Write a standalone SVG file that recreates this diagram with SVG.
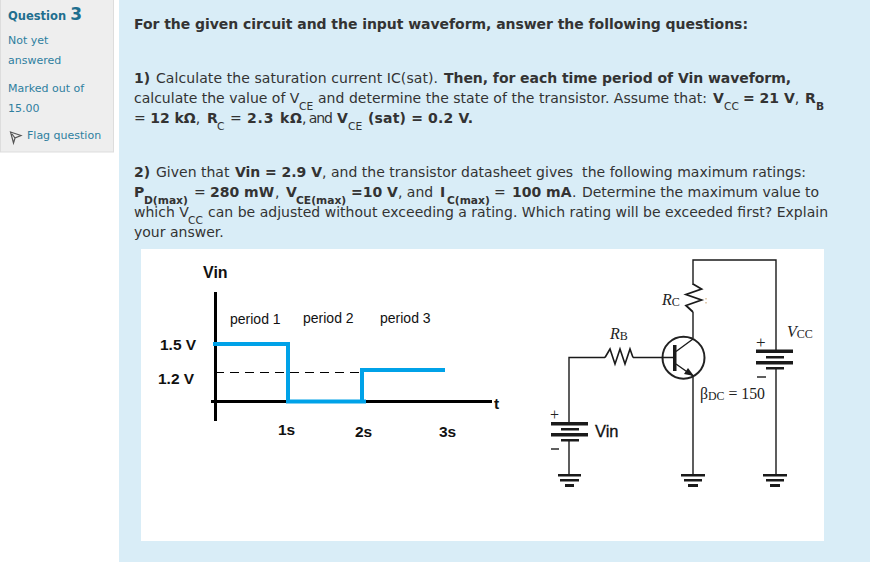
<svg xmlns="http://www.w3.org/2000/svg" width="870" height="562" viewBox="0 0 870 562">
<style>
text{font-family:"DejaVu Sans",Verdana,sans-serif;font-size:14px;fill:#333;white-space:pre}
.b{font-weight:bold}
.s{font-size:10.700px}
.side{font-size:11px;fill:#2f7f9f}
.g{font-family:"Liberation Sans",Arial,sans-serif;fill:#111}
.gb{font-family:"Liberation Sans",Arial,sans-serif;font-weight:bold;font-size:15.500px;fill:#111}
.t{font-family:"Liberation Serif","Times New Roman",serif;font-size:16px;fill:#222}
.ts{font-size:12px;fill:#222}
.w{fill:none;stroke:#1a1a1a;stroke-width:1.400}
.p{fill:#1a1a1a}
.ax{fill:none;stroke:#000;stroke-width:3}
.wave{fill:none;stroke:#00a2e8;stroke-width:4}
</style>
<rect width="870" height="562" fill="#fff"/>
<g id="sidebar">
<rect x="0.500" y="-1" width="113" height="153" fill="#eee" stroke="#ddd"/>
<text x="8" y="20" class="b" style="font-size:11.500px;fill:#1f6f8f">Question <tspan style="font-size:17px">3</tspan></text>
<text x="8" y="44" class="side">Not yet</text>
<text x="8" y="64" class="side">answered</text>
<text x="8" y="92" class="side">Marked out of</text>
<text x="8" y="112" class="side">15.00</text>
<path d="M10.500 132L21 135.500 15 138 13.500 143ZM12 134L15 138" fill="none" stroke="#555" stroke-width="1.200"/>
<text x="27" y="139" class="side">Flag question</text>
</g>
<rect id="panel" x="119" y="0" width="751" height="562" fill="#d9edf7"/>
<g id="question">
<text x="134" y="29" class="b" textLength="614">For the given circuit and the input waveform, answer the following questions:</text>
<text x="134" y="83" class="b">1)</text>
<text x="156" y="83" textLength="282">Calculate the saturation current IC(sat).</text>
<text x="444" y="83" class="b" textLength="347">Then, for each time period of Vin waveform,</text>
<text x="134" y="103">calculate the value of V</text><text x="299" y="110" class="s">CE</text>
<text x="318" y="103" textLength="389">and determine the state of the transistor. Assume that:</text>
<text x="713" y="103" class="b">V</text><text x="724" y="110" class="s">CC</text>
<text x="743" y="103"><tspan class="b">= 21 V</tspan>,</text>
<text x="805" y="103" class="b">R</text><text x="816" y="110" class="b s">B</text>
<text x="134" y="123">= <tspan class="b">12 kΩ</tspan>,</text>
<text x="207" y="123" class="b">R</text><text x="217" y="130" class="s">C</text>
<text x="230" y="123">=</text><text x="247" y="123" class="b" textLength="55">2.3 kΩ</text><text x="302" y="123" textLength="31">, and</text>
<text x="337" y="123" class="b">V</text><text x="348" y="130" class="s">CE</text>
<text x="368" y="123" class="b" textLength="105">(sat) = 0.2 V.</text>
<text x="134" y="177" class="b">2)</text>
<text x="156" y="177">Given that</text>
<text x="235" y="177" class="b" textLength="87">Vin = 2.9 V</text>
<text x="322" y="177" textLength="484">, and the transistor datasheet gives  the following maximum ratings:</text>
<text x="134" y="197" class="b">P</text><text x="144" y="204" class="b s">D(max)</text>
<text x="194" y="197">=</text><text x="210" y="197" class="b">280 mW</text><text x="275" y="197">,</text>
<text x="286" y="197" class="b">V</text><text x="296" y="204" class="b s">CE(max)</text>
<text x="351" y="197"><tspan class="b">=10 V</tspan>, and</text>
<text x="440" y="197" class="b">I</text><text x="447" y="204" class="b s">C(max)</text>
<text x="494" y="197">=</text><text x="512" y="197" class="b">100 mA</text><text x="572" y="197">.</text>
<text x="582" y="197" textLength="237">Determine the maximum value to</text>
<text x="134" y="217">which V</text><text x="188" y="224" class="s">CC</text>
<text x="208" y="217" textLength="620">can be adjusted without exceeding a rating. Which rating will be exceeded first? Explain</text>
<text x="134" y="237">your answer.</text>
</g>
<rect id="figure" x="141" y="249" width="683" height="292" fill="#fff"/>
<g id="waveform">
<path class="ax" d="M215.500 292V421M211 401.500H492"/>
<path d="M215 372.500H361" fill="none" stroke="#000" stroke-width="1" stroke-dasharray="9 6"/>
<path class="wave" d="M213 344H288V401.500H366M362 401.500V370H445"/>
<text x="203" y="278" class="gb" style="font-size:16px">Vin</text>
<text x="230" y="324" class="g">period 1</text>
<text x="303" y="323" class="g">period 2</text>
<text x="380" y="323" class="g">period 3</text>
<text x="160" y="350" class="gb">1.5 V</text>
<text x="158" y="384" class="gb">1.2 V</text>
<text x="278" y="435" class="gb">1s</text>
<text x="355" y="437" class="gb">2s</text>
<text x="439" y="437" class="gb">3s</text>
<text x="494" y="409" class="gb">t</text>
</g>
<g id="connectors">
<path class="w" d="M662 357.500H633M605 357.500H569V424M569 440V475"/>
<path class="w" d="M693 285V260H776V351M776 368V475M693 338V312M693 376V475"/>
</g>
<g id="rb">
<path class="w" style="stroke-width:1.600" d="M605 357.500L610 349 615 364 620 349 625 364 630 349 633 357.500"/>
<text x="610" y="339" class="t"><tspan font-style="italic">R</tspan><tspan class="ts" dy="1">B</tspan></text>
</g>
<g id="rc">
<path class="w" style="stroke-width:1.800" d="M693 284L701.500 289 686 294.500 701.500 300 686 305.500 693 312"/>
<path d="M706 298v1.500M706 302v1.500" stroke="#c9a06a" stroke-width="1" fill="none"/>
<text x="662" y="305" class="t"><tspan font-style="italic">R</tspan><tspan class="ts" dy="1">C</tspan></text>
</g>
<g id="transistor">
<circle cx="683.500" cy="357.700" r="21" fill="#fff" stroke="#222" stroke-width="2"/>
<rect x="673" y="345" width="3.500" height="26" class="p"/>
<path class="w" d="M662 357.500H674M676 351.500L693 339M676 364L693 376"/>
<path class="p" d="M694 376L684 374 688 368Z"/>
<text x="700" y="399" class="t" textLength="65" lengthAdjust="spacingAndGlyphs">β<tspan class="ts" dy="1">DC</tspan><tspan dy="-1"> = 150</tspan></text>
</g>
<g id="vin-source">
<rect x="551" y="422" width="37" height="3.500" class="p"/><rect x="561" y="428" width="18" height="2.500" class="p"/><rect x="551" y="433" width="37" height="3.500" class="p"/><rect x="561" y="439" width="18" height="2.500" class="p"/>
<text x="550" y="420" class="t" style="font-size:16px">+</text>
<path class="w" d="M551 449H559"/>
<text x="595" y="436.500" class="g" style="font-size:16.500px;stroke:#111;stroke-width:.3">Vin</text>
</g>
<g id="vcc-source">
<rect x="756" y="349.500" width="37" height="3.500" class="p"/><rect x="766" y="356" width="18" height="2.500" class="p"/><rect x="756" y="361" width="37" height="3.500" class="p"/><rect x="766" y="367" width="18" height="2.500" class="p"/>
<text x="756" y="348" class="t" style="font-size:17px">+</text>
<path class="w" d="M757 377H766"/>
<text x="787" y="337" class="t"><tspan font-style="italic">V</tspan><tspan class="ts" dy="1">CC</tspan></text>
</g>
<g id="grounds" class="p">
<path d="M558 474h23v2.500h-23zM560 479h19v2.500h-19zM565 484h9v3h-9z"/>
<path d="M681 474h24v2.500h-24zM684 479h18v2.500h-18zM688 484h10v3h-10z"/>
<path d="M763 474h24v2.500h-24zM766 479h18v2.500h-18zM770 484h10v3h-10z"/>
</g>
</svg>
